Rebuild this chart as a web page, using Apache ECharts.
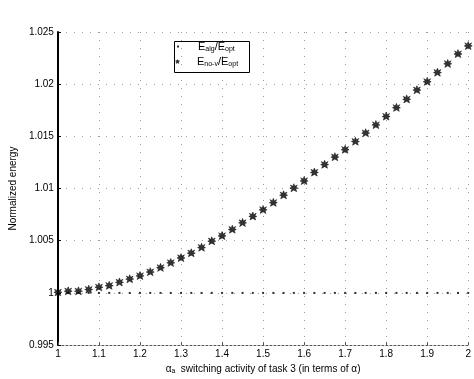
<!DOCTYPE html>
<html><head><meta charset="utf-8">
<script src="https://cdn.jsdelivr.net/npm/echarts@6/dist/echarts.min.js"></script>
<style>html,body{margin:0;padding:0;background:#fff}#c{width:474px;height:379px}</style>
</head><body><div id="c"></div>
<script>
const xValues = [1.0,1.025,1.05,1.075,1.1,1.125,1.15,1.175,1.2,1.225,1.25,1.275,1.3,1.325,1.35,1.375,1.4,1.425,1.45,1.475,1.5,1.525,1.55,1.575,1.6,1.625,1.65,1.675,1.7,1.725,1.75,1.775,1.8,1.825,1.85,1.875,1.9,1.925,1.95,1.975,2.0];
const algValues = [1.0,1.0,1.0,1.0,1.0,1.0,1.0,1.0,1.0,1.0,1.0,1.0,1.0,1.0,1.0,1.0,1.0,1.0,1.0,1.0,1.0,1.0,1.0,1.0,1.0,1.0,1.0,1.0,1.0,1.0,1.0,1.0,1.0,1.0,1.0,1.0,1.0,1.0,1.0,1.0,1.0];
const noVValues = [1.0001,1.0002,1.0002,1.00036,1.00058,1.00073,1.00105,1.00136,1.00167,1.00204,1.00245,1.00292,1.00339,1.00385,1.00438,1.0050,1.0055,1.00611,1.00675,1.00737,1.0080,1.00868,1.0094,1.01008,1.01077,1.01158,1.01233,1.01305,1.01376,1.01454,1.01535,1.01613,1.01694,1.01778,1.01859,1.01947,1.02027,1.02115,1.02199,1.02293,1.0237];
const xTicks = {min: 1, max: 2, step: 0.1};
const yTicks = {min: 0.995, max: 1.025, step: 0.005};
const seriesNames = ['alg', 'nov'];

const font = 'Liberation Sans';
const fmt = v => String(parseFloat(v.toFixed(3)));
const chart = echarts.init(document.getElementById('c'));
const rich = {
  e: {fontFamily: font, fontSize: 11, color: '#000'},
  s: {fontFamily: font, fontSize: 7, color: '#000', verticalAlign: 'bottom', padding: [6, 0, 0, 0]}
};
const legendFmt = n => n === 'alg' ? '{e|E}{s|alg}{e|/E}{s|opt}' : '{e|E}{s|no-v}{e|/E}{s|opt}';
const star = 'path://M5,0 L6.3,3.2 L9.3,1.6 L7.6,4.4 L10,5.5 L7.4,6.6 L8.6,10 L5,8 L1.4,10 L2.6,6.6 L0,5.5 L2.4,4.4 L0.7,1.6 L3.7,3.2 Z';
chart.setOption({
  animation: false,
  grid: {left: 51, right: 1, top: 32, bottom: 26},
  graphic: [{type: 'rect', left: 172, top: 39, shape: {width: 75, height: 31},
    style: {fill: 'none', stroke: '#000', lineWidth: 1}, z: 10}],
  legend: [
    {left: 177, top: 41, itemWidth: 2, itemHeight: 2, itemGap: 0, data: ['alg'],
     formatter: legendFmt, textStyle: {rich: rich, padding: [0, 0, 0, 14]}, padding: 0},
    {left: 175, top: 56, itemWidth: 5, itemHeight: 5, itemGap: 0, data: ['nov'],
     itemStyle: {borderWidth: 0},
     formatter: legendFmt, textStyle: {rich: rich, padding: [0, 0, 0, 12]}, padding: 0}
  ],
  xAxis: {
    type: 'value', min: xTicks.min, max: xTicks.max, interval: xTicks.step,
    name: 'α\u2090  switching activity of task 3 (in terms of α)',
    nameLocation: 'middle', nameGap: 16,
    nameTextStyle: {fontFamily: font, fontSize: 10, color: '#000'},
    axisLine: {lineStyle: {color: '#555', width: 1, type: [2, 2]}},
    axisTick: {inside: true, length: 3, lineStyle: {color: '#555'}},
    axisLabel: {fontFamily: font, fontSize: 10, color: '#000', margin: 4, formatter: fmt},
    splitLine: {show: true, lineStyle: {color: '#999', width: 1, type: [1, 7]}}
  },
  yAxis: {
    type: 'value', min: yTicks.min, max: yTicks.max, interval: yTicks.step,
    name: 'Normalized energy', nameLocation: 'middle', nameGap: 30,
    nameTextStyle: {fontFamily: font, fontSize: 10, color: '#000'},
    axisLine: {lineStyle: {color: '#000', width: 2}},
    axisTick: {inside: true, length: 3, lineStyle: {color: '#000'}},
    axisLabel: {fontFamily: font, fontSize: 10, color: '#000', margin: 4, formatter: fmt},
    splitLine: {show: true, lineStyle: {color: '#999', width: 1, type: [1, 7]}}
  },
  series: [
    {name: 'alg', type: 'scatter', symbol: 'rect', symbolSize: 2,
     itemStyle: {color: '#000'}, data: xValues.map((x, i) => [x, algValues[i]])},
    {name: 'nov', type: 'scatter', symbol: star, symbolSize: 8,
     itemStyle: {color: '#000', borderColor: '#000', borderWidth: 0.6}, data: xValues.map((x, i) => [x, noVValues[i]])}
  ]
});
</script></body></html>
